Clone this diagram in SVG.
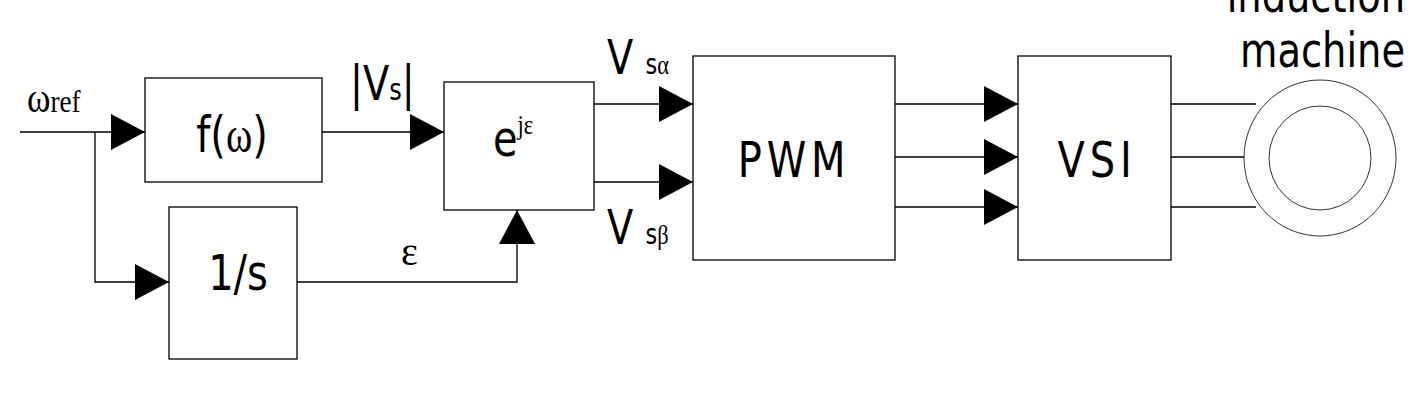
<svg xmlns="http://www.w3.org/2000/svg" width="1420" height="412" viewBox="0 0 1420 412">
<style>
.b{fill:#fff;stroke:#000;stroke-width:1.3}
.l{fill:none;stroke:#000;stroke-width:1.3}
.t{font-family:"DejaVu Sans",sans-serif;fill:#000}
.s{font-family:"Liberation Serif",serif;fill:#000}
.c{fill:none;stroke:#000;stroke-width:0.8}
</style>
<defs><marker id="a" markerWidth="36" markerHeight="36" refX="34" refY="18" orient="auto" markerUnits="userSpaceOnUse"><path d="M0,0L34,18L0,36Z" fill="#000"/></marker></defs>
<rect width="1420" height="412" fill="#fff"/>
<g id="connectors">
<path class="l" d="M20,132H145" marker-end="url(#a)"/>
<path class="l" d="M95,132V282H169" marker-end="url(#a)"/>
<path class="l" d="M322,132H444" marker-end="url(#a)"/>
<path class="l" d="M297,282H517V210" marker-end="url(#a)"/>
<path class="l" d="M594,104H693" marker-end="url(#a)"/>
<path class="l" d="M594,182H693" marker-end="url(#a)"/>
<path class="l" d="M895,104H1018" marker-end="url(#a)"/>
<path class="l" d="M895,157H1018" marker-end="url(#a)"/>
<path class="l" d="M895,207H1018" marker-end="url(#a)"/>
<path class="l" d="M1171,104H1256M1171,157H1244M1171,207H1256"/>
</g>
<g id="f"><rect class="b" x="145" y="78" width="177" height="104"/><text class="t" transform="translate(232,152) scale(0.8,1)" font-size="50" text-anchor="middle">f(<tspan class="s">ω</tspan>)</text></g>
<g id="int"><rect class="b" x="169" y="207" width="128" height="152"/><text class="t" transform="translate(238,290) scale(0.8,1)" font-size="50" text-anchor="middle">1/s</text></g>
<g id="exp"><rect class="b" x="444" y="82" width="150" height="128"/><text class="t" transform="translate(513,156) scale(0.8,1)" font-size="50" text-anchor="middle">e<tspan font-size="28" dy="-22" class="s">jε</tspan></text></g>
<g id="pwm"><rect class="b" x="693" y="56" width="202" height="204"/><text class="t" transform="translate(794,177) scale(0.8,1)" font-size="50" text-anchor="middle" letter-spacing="6">PWM</text></g>
<g id="vsi"><rect class="b" x="1018" y="56" width="153" height="204"/><text class="t" transform="translate(1097,177) scale(0.8,1)" font-size="50" text-anchor="middle" letter-spacing="6">VSI</text></g>
<g id="machine"><ellipse class="c" cx="1320" cy="158" rx="76" ry="78"/><ellipse class="c" cx="1320" cy="158" rx="51" ry="52"/>
<text class="t" transform="translate(1405,12) scale(0.8,1)" font-size="48" text-anchor="end">induction</text><text class="t" transform="translate(1405,67) scale(0.8,1)" font-size="48" text-anchor="end">machine</text></g>
<g id="labels">
<text class="s" transform="translate(27,112) scale(0.85,1)" font-size="42">ω<tspan font-size="32">ref</tspan></text>
<text class="t" transform="translate(350,100) scale(0.8,1)" font-size="48">|V<tspan font-size="30">s</tspan>|</text>
<text class="t" transform="translate(607,74) scale(0.8,1)" font-size="48">V <tspan font-size="28">s</tspan><tspan class="s" font-size="28">α</tspan></text>
<text class="t" transform="translate(607,244) scale(0.8,1)" font-size="48">V <tspan font-size="28">s</tspan><tspan class="s" font-size="28">β</tspan></text>
<text class="s" x="401" y="265" font-size="40">ε</text>
</g>
</svg>
